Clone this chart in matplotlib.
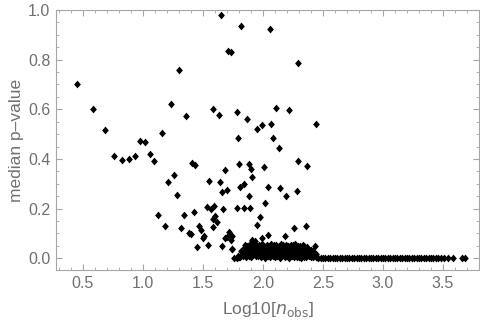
import matplotlib
matplotlib.use('Agg')
import matplotlib.pyplot as plt
from matplotlib.path import Path
from matplotlib.ticker import MultipleLocator

# scattered points (log10 n_obs, median p-value)
scatter_x = [0.45, 0.58, 0.68, 0.76, 0.825, 0.883, 0.933, 0.975, 1.02, 1.06, 1.094,
             1.155, 1.236, 1.30, 1.36, 1.41, 1.43, 1.26, 1.21, 1.28, 1.127, 1.18,
             1.34, 1.425, 1.32, 1.38, 1.40, 1.45,
             1.65, 1.82, 2.056, 1.71, 1.735, 2.29, 1.58, 1.63, 1.78, 2.106, 2.22,
             1.867, 1.99, 1.947, 2.07, 2.44, 1.79, 2.083, 2.133, 2.294, 2.37, 2.01,
             1.80, 1.88, 1.68, 1.90, 1.91, 1.55, 1.64, 1.84, 1.81, 1.70, 1.66, 1.88,
             2.04, 2.14, 2.19, 2.28, 2.02,
             1.53, 1.57, 1.594, 1.67, 1.78, 1.84, 1.89, 1.60, 1.617, 1.586, 1.58,
             1.95, 1.47, 1.48, 1.51, 1.50, 1.72, 1.74, 1.70, 1.73, 1.686, 1.54,
             1.655, 1.744, 1.76, 1.80,
             1.975, 2.26, 2.36, 2.18, 2.04, 1.99, 1.91, 1.93, 2.43, 1.74, 1.83, 1.78]
scatter_y = [0.703, 0.602, 0.517, 0.414, 0.397, 0.401, 0.412, 0.472, 0.467, 0.421, 0.392,
             0.505, 0.621, 0.757, 0.575, 0.385, 0.375, 0.335, 0.307, 0.255, 0.176, 0.131,
             0.176, 0.186, 0.123, 0.102, 0.097, 0.044,
             0.979, 0.936, 0.924, 0.835, 0.829, 0.786, 0.601, 0.578, 0.590, 0.606, 0.597,
             0.562, 0.535, 0.520, 0.540, 0.540, 0.484, 0.484, 0.443, 0.393, 0.370, 0.369,
             0.381, 0.381, 0.354, 0.358, 0.328, 0.311, 0.306, 0.300, 0.286, 0.274, 0.268, 0.251,
             0.286, 0.283, 0.251, 0.270, 0.224,
             0.205, 0.200, 0.210, 0.200, 0.202, 0.202, 0.202, 0.170, 0.146, 0.157, 0.127,
             0.133, 0.130, 0.114, 0.090, 0.080, 0.107, 0.090, 0.085, 0.074, 0.080, 0.052,
             0.050, 0.039, 0.002, 0.006,
             0.166, 0.123, 0.129, 0.091, 0.094, 0.080, 0.074, 0.068, 0.050, 0.036, 0.016, 0.000]

# dense band of small p-values around log10 n = 1.8 .. 2.5
band_x = [1.85, 1.87, 1.89, 1.91, 1.93, 1.95, 1.97, 1.99, 2.01, 2.03, 2.05, 2.07, 2.09,
          2.11, 2.13, 2.15, 2.17, 2.19, 2.21, 2.23, 2.25, 2.27, 2.29, 2.31, 2.33, 2.35, 2.37,
          1.84, 1.86, 1.88, 1.90, 1.92, 1.94, 1.96, 1.98, 2.00, 2.02, 2.04, 2.06, 2.08, 2.10,
          2.12, 2.14, 2.16, 2.18, 2.20, 2.22, 2.24, 2.26, 2.28, 2.30, 2.32, 2.34, 2.36, 2.38,
          2.40, 2.42,
          1.82, 1.85, 1.87, 1.89, 1.91, 1.93, 1.95, 1.97, 1.99, 2.01, 2.03, 2.05, 2.07, 2.09,
          2.11, 2.13, 2.15, 2.17, 2.19, 2.21, 2.23, 2.25, 2.27, 2.29, 2.31, 2.33, 2.35, 2.37,
          2.39, 2.41, 2.44,
          1.79, 1.81, 1.83, 1.86, 1.88, 1.90, 1.92, 1.94, 1.96, 1.98, 2.00, 2.02, 2.04, 2.06,
          2.08, 2.10, 2.12, 2.14, 2.16, 2.18, 2.20, 2.22, 2.24, 2.26, 2.28, 2.30, 2.32, 2.34,
          2.36, 2.38, 2.40, 2.42, 2.44, 2.46, 2.48]
band_y = [0.055, 0.050, 0.057, 0.052, 0.056, 0.050, 0.054, 0.058, 0.051, 0.055, 0.050, 0.056,
          0.052, 0.054, 0.050, 0.057, 0.053, 0.055, 0.050, 0.054, 0.052, 0.056, 0.050, 0.048,
          0.052, 0.045, 0.047,
          0.040, 0.042, 0.038, 0.043, 0.040, 0.044, 0.039, 0.041, 0.043, 0.038, 0.042, 0.040,
          0.044, 0.039, 0.041, 0.043, 0.038, 0.042, 0.040, 0.043, 0.039, 0.041, 0.038, 0.042,
          0.037, 0.040, 0.036, 0.034, 0.033, 0.028,
          0.030, 0.024, 0.027, 0.022, 0.026, 0.028, 0.023, 0.025, 0.027, 0.022, 0.026, 0.024,
          0.028, 0.023, 0.025, 0.027, 0.022, 0.026, 0.024, 0.027, 0.023, 0.025, 0.022, 0.026,
          0.024, 0.022, 0.025, 0.021, 0.020, 0.018, 0.016,
          0.008, 0.006, 0.010, 0.004, 0.010, 0.006, 0.012, 0.008, 0.010, 0.006, 0.012, 0.003,
          0.009, 0.005, 0.011, 0.004, 0.008, 0.003, 0.010, 0.005, 0.008, 0.003, 0.009, 0.004,
          0.007, 0.005, 0.003, 0.006, 0.004, 0.008, 0.005, 0.004, 0.006, 0.003, 0.002]

# near-zero values for large samples
zero_x = [2.50, 2.52, 2.54, 2.56, 2.58, 2.60, 2.62, 2.64, 2.66, 2.68, 2.70, 2.72,
          2.74, 2.76, 2.78, 2.80, 2.82, 2.84, 2.86, 2.88, 2.90, 2.92, 2.94, 2.96,
          2.98, 3.00, 3.02, 3.04, 3.06, 3.08, 3.10, 3.12, 3.14, 3.16, 3.18, 3.20,
          3.22, 3.24, 3.26, 3.28, 3.30, 3.32, 3.34, 3.36, 3.38, 3.40, 3.42, 3.44,
          3.46, 3.48, 3.51, 3.545, 3.58, 3.66, 3.685]
zero_y = [0.002, 0.001, 0.002, 0.001, 0.0, 0.001, 0.002, 0.0, 0.001, 0.0, 0.001, 0.0,
          0.001, 0.0, 0.001, 0.0, 0.001, 0.0, 0.0, 0.001, 0.0, 0.0, 0.001, 0.0,
          0.0, 0.001, 0.0, 0.0, 0.001, 0.0, 0.0, 0.0, 0.001, 0.0, 0.0, 0.0,
          0.0, 0.001, 0.0, 0.0, 0.0, 0.0, 0.001, 0.0, 0.0, 0.0, 0.0, 0.0,
          0.0, 0.0, 0.0, 0.0, 0.0, 0.0, 0.0]

xs = scatter_x + band_x + zero_x
ys = scatter_y + band_y + zero_y

plt.rcParams['font.family'] = ['Liberation Sans', 'DejaVu Sans']
gray_axis = '#a6a6a6'
gray_text = '#707070'

diamond = Path([(0, -1.15), (1, 0), (0, 1.15), (-1, 0), (0, -1.15)],
               [Path.MOVETO, Path.LINETO, Path.LINETO, Path.LINETO, Path.CLOSEPOLY])

fig = plt.figure(figsize=(4.81, 3.28), dpi=100)
ax = fig.add_axes([56/481, 58/328, 423/481, 260/328])
ax.plot(xs, ys, linestyle='none', marker=diamond, markersize=5.6, color='black',
        markeredgewidth=0)

ax.set_xlim(0.275, 3.80)
ax.set_ylim(-0.047, 1.0)
ax.xaxis.set_major_locator(MultipleLocator(0.5))
ax.xaxis.set_minor_locator(MultipleLocator(0.1))
ax.yaxis.set_major_locator(MultipleLocator(0.2))
ax.yaxis.set_minor_locator(MultipleLocator(0.05))
ax.xaxis.set_major_formatter(plt.FuncFormatter(lambda v, p: '%.1f' % v))
ax.yaxis.set_major_formatter(plt.FuncFormatter(lambda v, p: '%.1f' % v))

for s in ax.spines.values():
    s.set_color(gray_axis)
    s.set_linewidth(0.8)
ax.tick_params(which='both', direction='in', top=True, right=True, color=gray_axis,
               labelcolor=gray_text, labelsize=11.5)
ax.tick_params(which='major', length=4, width=0.8, pad=4)
ax.tick_params(which='minor', length=2.2, width=0.6)

ax.set_xlabel(r'Log10[$n_{\mathrm{obs}}$]', color=gray_text, fontsize=12.5, labelpad=7)
ax.set_ylabel('median p–value', color=gray_text, fontsize=12.5, labelpad=3)

plt.savefig('out.png', dpi=100)
